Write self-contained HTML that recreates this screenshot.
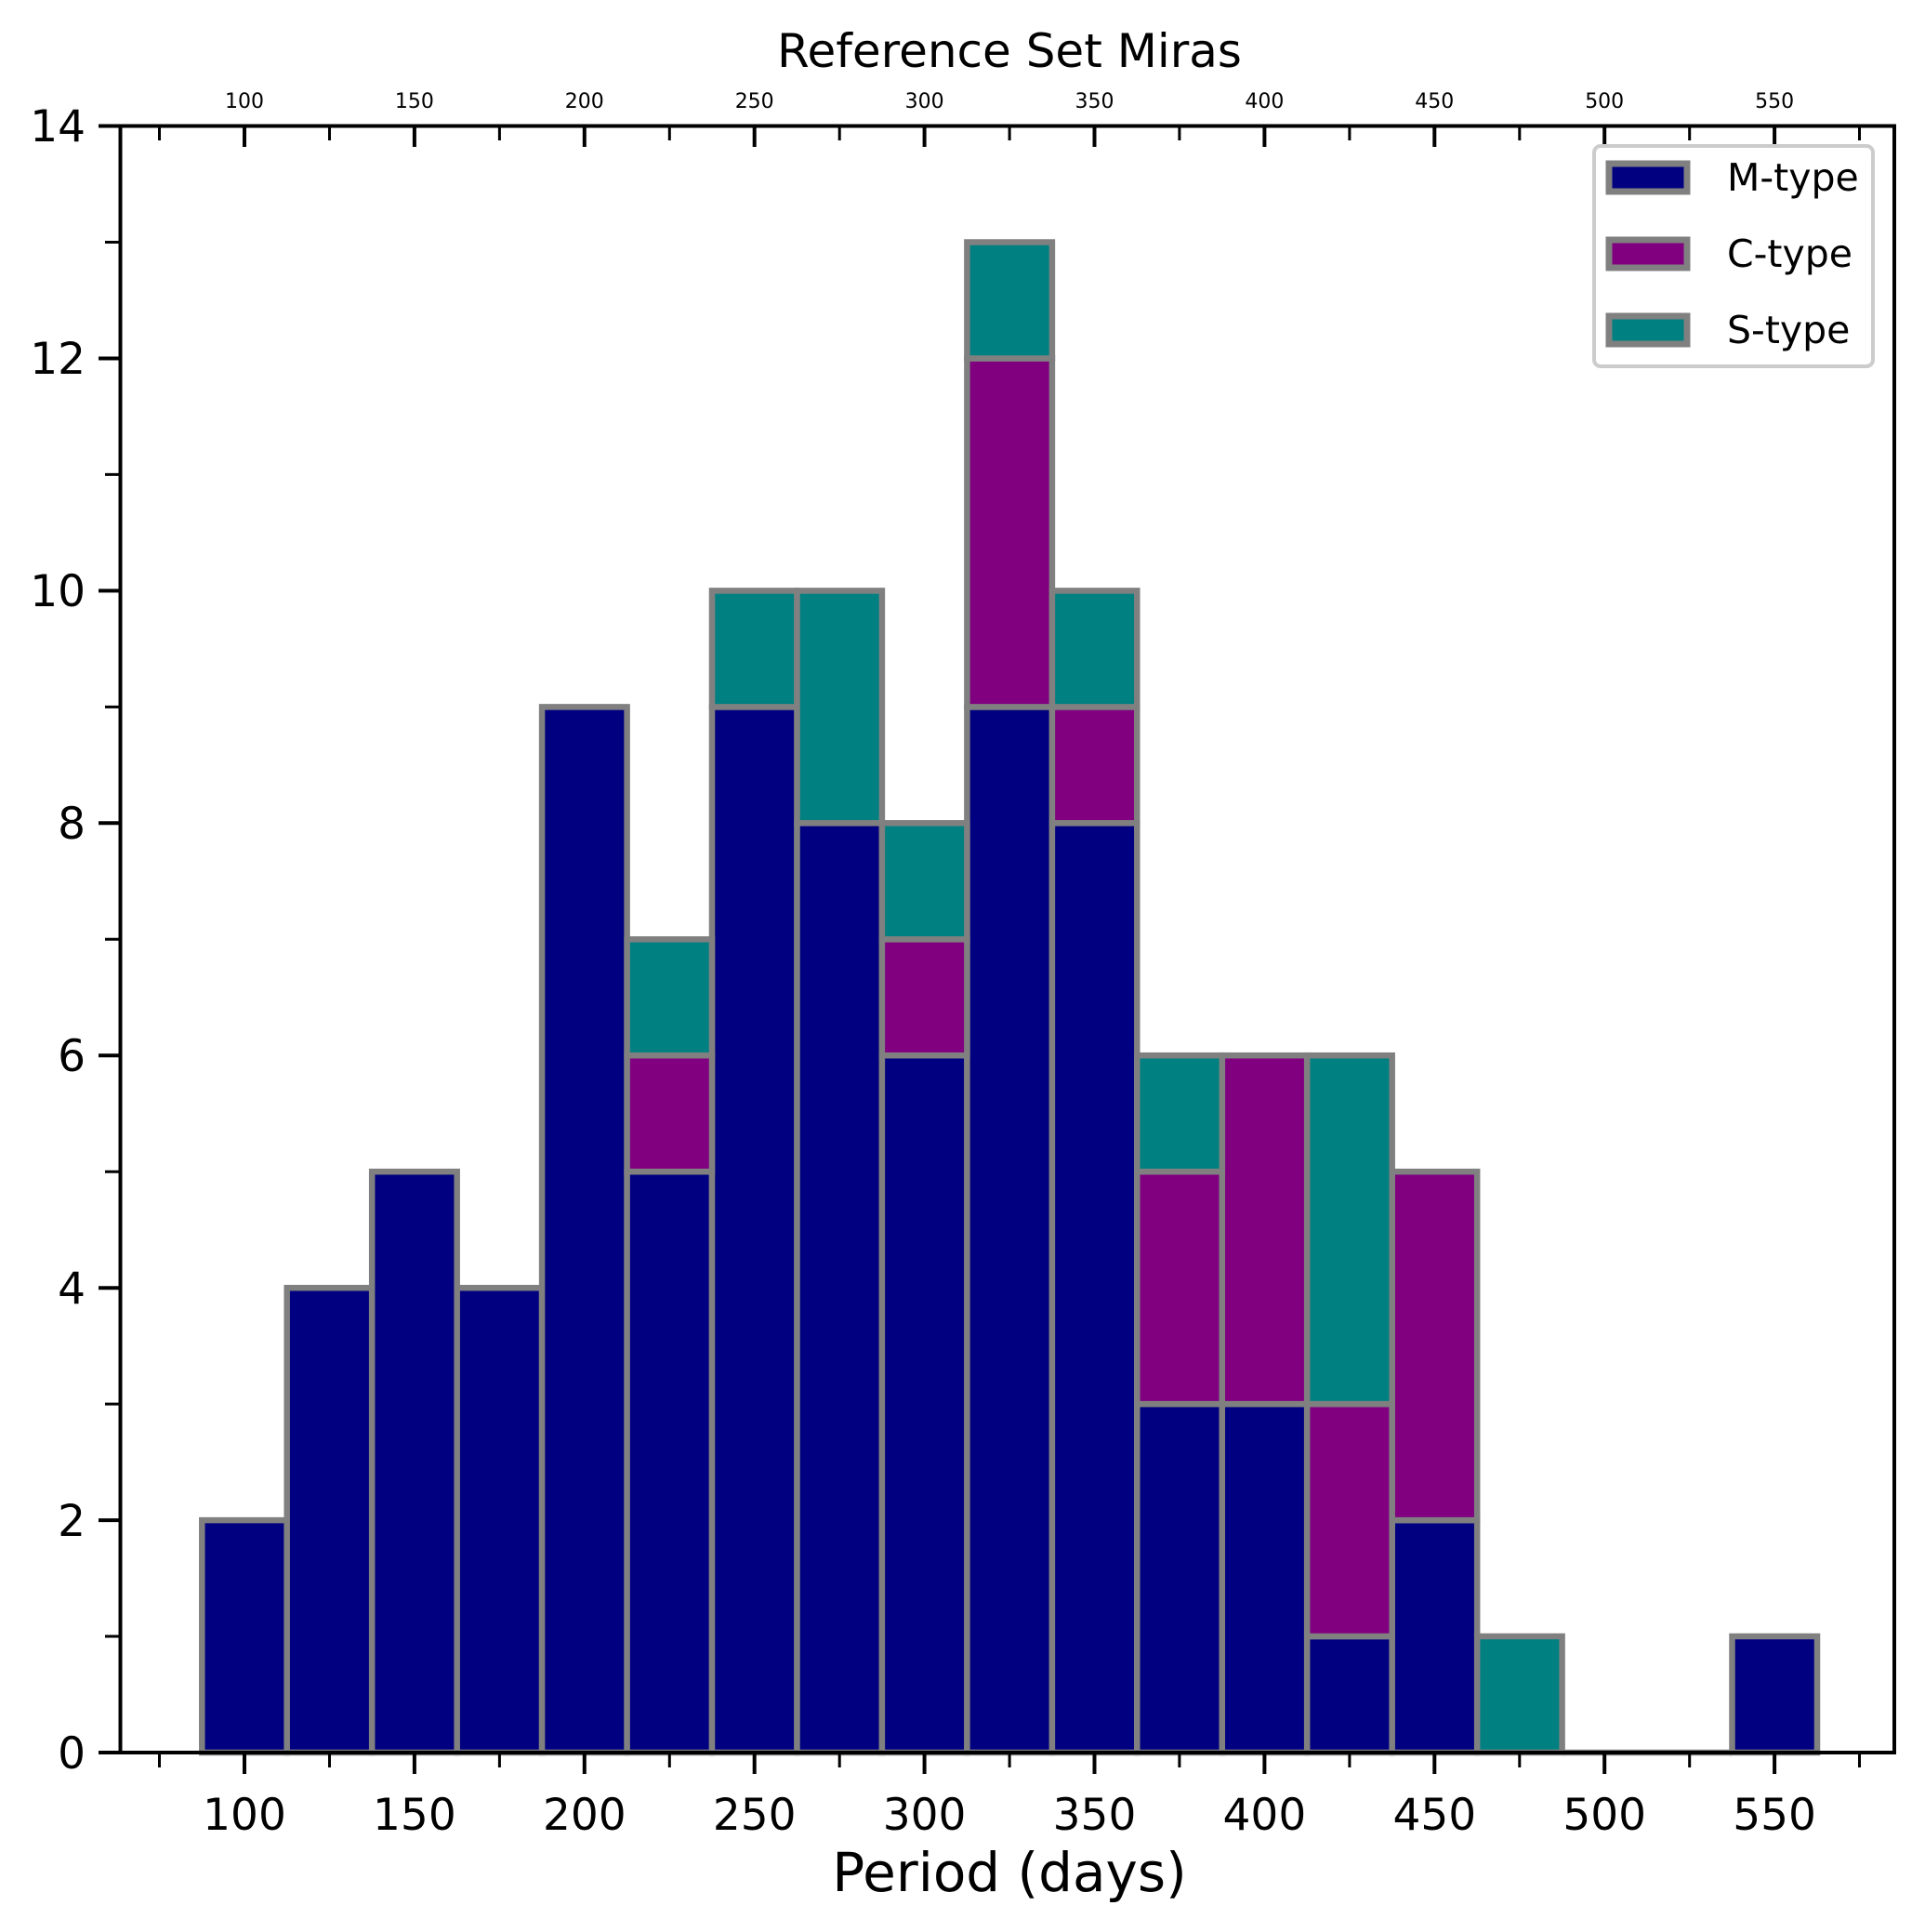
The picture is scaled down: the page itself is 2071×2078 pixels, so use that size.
<!DOCTYPE html>
<html><head><meta charset="utf-8"><style>
html,body{margin:0;padding:0;background:#fff;}
svg{display:block;}
text{font-family:"DejaVu Sans","Liberation Sans",sans-serif;fill:#000;}
</style></head><body>
<svg width="2071" height="2078" viewBox="0 0 2071 2078" xmlns="http://www.w3.org/2000/svg">
<rect x="0" y="0" width="2071" height="2078" fill="#fff"/>
<g stroke="#808080" stroke-width="6.5">
<g fill="#000080">
<rect x="217.3" y="1635.1" width="91.4" height="249.9"/>
<rect x="308.7" y="1385.2" width="91.5" height="499.8"/>
<rect x="400.2" y="1260.2" width="91.5" height="624.8"/>
<rect x="491.7" y="1385.2" width="91.4" height="499.8"/>
<rect x="583.1" y="760.4" width="91.5" height="1124.6"/>
<rect x="674.6" y="1260.2" width="91.4" height="624.8"/>
<rect x="766.0" y="760.4" width="91.5" height="1124.6"/>
<rect x="857.5" y="885.3" width="91.4" height="999.7"/>
<rect x="948.9" y="1135.2" width="91.5" height="749.8"/>
<rect x="1040.4" y="760.4" width="91.5" height="1124.6"/>
<rect x="1131.9" y="885.3" width="91.4" height="999.7"/>
<rect x="1223.3" y="1510.1" width="91.5" height="374.9"/>
<rect x="1314.8" y="1510.1" width="91.4" height="374.9"/>
<rect x="1406.2" y="1760" width="91.5" height="125"/>
<rect x="1497.7" y="1635.1" width="91.5" height="249.9"/>
<rect x="1863.5" y="1760" width="91.5" height="125"/>
</g>
<line x1="1680.6" y1="1885" x2="1863.5" y2="1885"/>
<g fill="#800080">
<rect x="674.6" y="1135.2" width="91.4" height="125"/>
<rect x="948.9" y="1010.3" width="91.5" height="124.9"/>
<rect x="1040.4" y="385.5" width="91.5" height="374.9"/>
<rect x="1131.9" y="760.4" width="91.4" height="124.9"/>
<rect x="1223.3" y="1260.2" width="91.5" height="249.9"/>
<rect x="1314.8" y="1135.2" width="91.4" height="374.9"/>
<rect x="1406.2" y="1510.1" width="91.5" height="249.9"/>
<rect x="1497.7" y="1260.2" width="91.5" height="374.9"/>
</g>
<g fill="#008080">
<rect x="674.6" y="1010.3" width="91.4" height="124.9"/>
<rect x="766.0" y="635.4" width="91.5" height="125"/>
<rect x="857.5" y="635.4" width="91.4" height="249.9"/>
<rect x="948.9" y="885.3" width="91.5" height="125"/>
<rect x="1040.4" y="260.5" width="91.5" height="125"/>
<rect x="1131.9" y="635.4" width="91.4" height="125"/>
<rect x="1223.3" y="1135.2" width="91.5" height="125"/>
<rect x="1406.2" y="1135.2" width="91.5" height="374.9"/>
<rect x="1589.2" y="1760" width="91.4" height="125"/>
</g>
</g>
<rect x="129.5" y="135.5" width="1908.5" height="1749.5" fill="none" stroke="#000" stroke-width="4"/>
<g stroke="#000" stroke-width="4">
<path d="M263 1885v23M445.9 1885v23M628.8 1885v23M811.7 1885v23M994.6 1885v23M1177.5 1885v23M1360.4 1885v23M1543.3 1885v23M1726.2 1885v23M1909.1 1885v23"/>
<path d="M263 135v23M445.9 135v23M628.8 135v23M811.7 135v23M994.6 135v23M1177.5 135v23M1360.4 135v23M1543.3 135v23M1726.2 135v23M1909.1 135v23"/>
<path d="M129 1885h-23M129 1635.1h-23M129 1385.2h-23M129 1135.2h-23M129 885.3h-23M129 635.4h-23M129 385.5h-23M129 135.5h-23"/>
</g>
<g stroke="#000" stroke-width="3">
<path d="M171.5 1885v16M354.5 1885v16M537.4 1885v16M720.3 1885v16M903.2 1885v16M1086.1 1885v16M1268.9 1885v16M1451.9 1885v16M1634.8 1885v16M1817.7 1885v16M2000.5 1885v16"/>
<path d="M171.5 135v16M354.5 135v16M537.4 135v16M720.3 135v16M903.2 135v16M1086.1 135v16M1268.9 135v16M1451.9 135v16M1634.8 135v16M1817.7 135v16M2000.5 135v16"/>
<path d="M129 1760h-16M129 1510.1h-16M129 1260.2h-16M129 1010.3h-16M129 760.4h-16M129 510.4h-16M129 260.5h-16"/>
</g>
<g font-size="47" text-anchor="middle">
<text x="263" y="1968">100</text><text x="445.9" y="1968">150</text><text x="628.8" y="1968">200</text><text x="811.7" y="1968">250</text><text x="994.6" y="1968">300</text><text x="1177.5" y="1968">350</text><text x="1360.4" y="1968">400</text><text x="1543.3" y="1968">450</text><text x="1726.2" y="1968">500</text><text x="1909.1" y="1968">550</text>
</g>
<g font-size="22" text-anchor="middle">
<text x="263" y="116">100</text><text x="445.9" y="116">150</text><text x="628.8" y="116">200</text><text x="811.7" y="116">250</text><text x="994.6" y="116">300</text><text x="1177.5" y="116">350</text><text x="1360.4" y="116">400</text><text x="1543.3" y="116">450</text><text x="1726.2" y="116">500</text><text x="1909.1" y="116">550</text>
</g>
<g font-size="47" text-anchor="end">
<text x="92" y="1902">0</text><text x="92" y="1652">2</text><text x="92" y="1402">4</text><text x="92" y="1152">6</text><text x="92" y="902">8</text><text x="92" y="652">10</text><text x="92" y="402">12</text><text x="92" y="152">14</text>
</g>
<text x="1086" y="72" font-size="50" text-anchor="middle">Reference Set Miras</text>
<text x="1086" y="2034" font-size="58" text-anchor="middle">Period (days)</text>
<rect x="1715" y="157" width="300" height="237" rx="7" fill="#fff" fill-opacity="0.8" stroke="#cccccc" stroke-width="4"/>
<g stroke="#808080" stroke-width="7">
<rect x="1731" y="176" width="84" height="30" fill="#000080"/>
<rect x="1731" y="258" width="84" height="30" fill="#800080"/>
<rect x="1731" y="340" width="84" height="30" fill="#008080"/>
</g>
<g font-size="41">
<text x="1858" y="205">M-type</text>
<text x="1858" y="287">C-type</text>
<text x="1858" y="369">S-type</text>
</g>
</svg>
</body></html>
